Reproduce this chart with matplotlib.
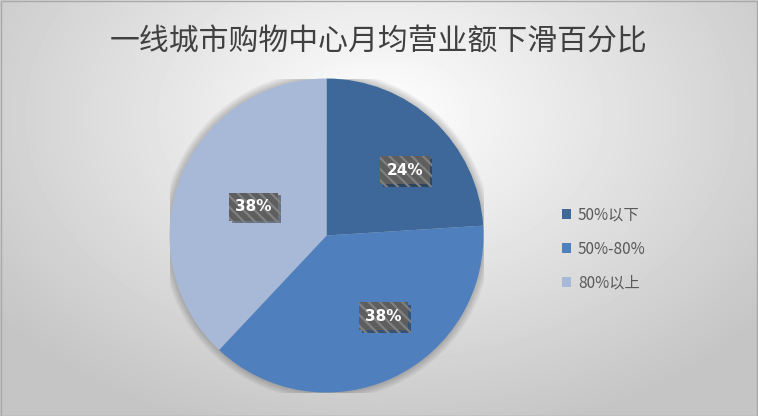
import numpy as np
import matplotlib.pyplot as plt
from matplotlib.patches import Circle, Rectangle
import matplotlib.patheffects as pe

plt.rcParams['font.family'] = ['Noto Sans CJK SC', 'DejaVu Sans']
plt.rcParams['hatch.linewidth'] = 1.6

title = '一线城市购物中心月均营业额下滑百分比'
labels = ['50%以下', '50%-80%', '80%以上']
shares = [24, 38, 38]
colors = ['#3D6899', '#4F80BD', '#A8B9D8']
# where each percent label sits: fraction of radius and angle shift (deg)
lbl_dist = [0.65, 0.63, 0.5]
lbl_shift = [-7, 10, 0]

W, H = 758, 416
fig = plt.figure(figsize=(W / 100, H / 100), dpi=100)

# radial grey background like the office chart style
bg = fig.add_axes([0, 0, 1, 1])
yy, xx = np.mgrid[0:H, 0:W]
d = np.sqrt(((xx - 380) / 480.0) ** 2 + ((yy - 115) / 330.0) ** 2)
shade = 255 - 58 * np.clip(d, 0, 1)
bg.imshow(shade, cmap='gray', vmin=0, vmax=255, aspect='auto', interpolation='bilinear')
bg.set_axis_off()
fig.add_artist(Rectangle((0.001, 0.001), 0.998, 0.996, transform=fig.transFigure,
                         fill=False, ec='#a9a9a9', lw=1))

fig.text(0.5, 0.9, title, ha='center', va='center', fontsize=21.5, color='#404040')

ax = fig.add_axes([169.5 / W, 23.5 / H, 314 / W, 314 / H])
for i in range(6):
    ax.add_patch(Circle((0, 0.0), 1 + 0.008 * (i + 1), fc='k', alpha=0.035, lw=0, zorder=0))
wedges, texts, autotexts = ax.pie(shares, colors=colors, startangle=90, counterclock=False,
                                  autopct='%1.0f%%', pctdistance=0.62, radius=1,
                                  wedgeprops=dict(lw=0),
                                  textprops=dict(color='white', fontsize=11, fontweight='bold',
                                                 family='DejaVu Sans'))
for w, t, r, s in zip(wedges, autotexts, lbl_dist, lbl_shift):
    w.set_zorder(2)
    mid = np.deg2rad((w.theta1 + w.theta2) / 2 + s)
    t.set_position((r * np.cos(mid), r * np.sin(mid)))
    t.set_zorder(3)
    t.set_bbox(dict(boxstyle='square,pad=0.42', fc='#5E5E5E', ec='#808080', lw=0, hatch='\\\\\\'))
    t.get_bbox_patch().set_path_effects([pe.SimplePatchShadow(offset=(2, -2), alpha=0.45), pe.Normal()])
ax.set_xlim(-1, 1)
ax.set_ylim(-1, 1)

leg = ax.legend(wedges, labels, loc='center left', bbox_to_anchor=(548 / W, (H - 249) / H),
                bbox_transform=fig.transFigure, frameon=False, fontsize=11,
                handlelength=0.6, handleheight=0.6, handletextpad=0.45, labelspacing=1.1)
for t in leg.get_texts():
    t.set_color('#595959')

fig.savefig('out.png', dpi=100)
